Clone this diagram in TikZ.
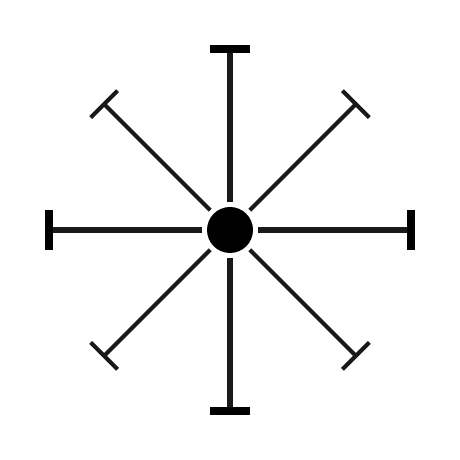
\documentclass[tikz,border=0pt]{standalone}
\usetikzlibrary{calc}
\tikzset{
	hub/.style={circle, fill=black, minimum size=23pt, inner sep=0, outer sep=2.5pt},
	mainspoke/.style={line width=3.25pt, draw=black!90},
	mainbar/.style={line width=4pt},
	diagspoke/.style={line width=2pt, draw=black!90},
	diagbar/.style={line width=2pt, draw=black!90}
}
\begin{document}
\begin{tikzpicture}[x=0.5pt,y=0.5pt]
	\useasboundingbox (0,0) rectangle (460,460);
	
	\node[hub] (hub) at (230,230) {};
	
	% straight spokes
	\foreach \a in {0,90,180,270}{
		\coordinate (end\a) at ($(hub.center)+(\a:181)$);
		\draw[mainspoke] (hub.\a) -- (end\a);
		\draw[mainbar] ($(end\a)+(\a+90:20)$) -- ($(end\a)+(\a-90:20)$);
	}
	
	% diagonal spokes
	\foreach \a in {45,135,225,315}{
		\coordinate (end\a) at ($(hub.center)+(\a:178)$);
		\draw[diagspoke] (hub.\a) -- (end\a);
		\draw[diagbar] ($(end\a)+(\a+90:19)$) -- ($(end\a)+(\a-90:19)$);
	}
\end{tikzpicture}
\end{document}
